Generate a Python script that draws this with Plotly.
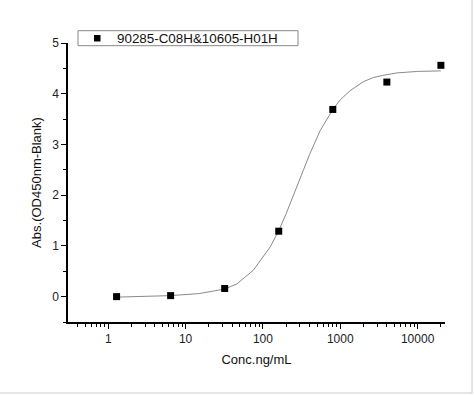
import plotly.graph_objects as go

# measured points
conc = [1.28, 6.4, 32, 160, 800, 4000, 20000]
absorb = [0.0, 0.02, 0.16, 1.29, 3.69, 4.23, 4.56]

# fitted curve
fit_x = [1.28, 3, 6.4, 15, 32, 46, 75, 124, 160, 200, 274, 400, 548, 800, 1000, 1340, 2000, 2680, 3500, 5370, 10000, 20000]
fit_y = [-0.01, 0.0, 0.02, 0.06, 0.15, 0.25, 0.52, 0.98, 1.3, 1.64, 2.16, 2.8, 3.27, 3.69, 3.88, 4.06, 4.24, 4.32, 4.36, 4.41, 4.44, 4.45]

series_name = "90285-C08H&10605-H01H"
x_ticks = [1, 10, 100, 1000, 10000]
x_labels = ["1", "10", "100", "1000", "10000"]
y_ticks = [0, 1, 2, 3, 4, 5]

FONT = "Arial, Liberation Sans, sans-serif"
W, H = 474, 395
ML, MR, MT, MB = 68, 29, 43, 73
PW, PH = W - ML - MR, H - MT - MB


def px(x):
    return (x - ML) / PW


def py(y):
    return 1 - (y - MT) / PH


fig = go.Figure()
fig.add_trace(go.Scatter(x=fit_x, y=fit_y, mode="lines", line=dict(color="#8a8a8a", width=1),
                         showlegend=False, hoverinfo="skip"))
fig.add_trace(go.Scatter(x=conc, y=absorb, mode="markers", name=series_name, showlegend=False,
                         marker=dict(symbol="square", size=7, color="black")))

fig.update_layout(
    width=W, height=H,
    margin=dict(l=ML, r=MR, t=MT, b=MB),
    paper_bgcolor="white", plot_bgcolor="white",
    font=dict(family=FONT, size=12, color="#222"),
    showlegend=False,
)
fig.update_xaxes(type="log", range=[-0.521, 4.354],
                 tickvals=x_ticks, ticktext=x_labels,
                 ticks="outside", ticklen=5, tickwidth=1, tickcolor="black",
                 showline=True, linecolor="black", linewidth=1.5,
                 showgrid=False, zeroline=False,
                 minor=dict(ticks="outside", ticklen=3, tickcolor="black", dtick="D1", showgrid=False),
                 tickfont=dict(size=12, family=FONT, color="#222"),
                 title=dict(text="Conc.ng/mL", font=dict(size=13, family=FONT, color="#111"), standoff=10))
fig.update_yaxes(range=[-0.5, 5], tickvals=y_ticks,
                 ticks="outside", ticklen=5, tickwidth=1, tickcolor="black",
                 showline=True, linecolor="black", linewidth=1.5,
                 showgrid=False, zeroline=False,
                 minor=dict(ticks="outside", ticklen=3, tickcolor="black", dtick=0.5, showgrid=False),
                 tickfont=dict(size=12, family=FONT, color="#222"),
                 title=dict(text="Abs.(OD450nm-Blank)", font=dict(size=13, family=FONT, color="#111"), standoff=8))

# legend box (drawn to match the compact original legend)
fig.add_shape(type="rect", xref="paper", yref="paper", x0=px(78), x1=px(298), y0=py(45.7), y1=py(30.7),
              line=dict(color="#888", width=1), fillcolor="white", layer="above")
fig.add_shape(type="rect", xref="paper", yref="paper", x0=px(94), x1=px(100.5), y0=py(41.5), y1=py(35),
              line=dict(color="black", width=0), fillcolor="black", layer="above")
fig.add_annotation(xref="paper", yref="paper", x=px(115), y=py(38.4), xanchor="left", yanchor="middle",
                   text=series_name, showarrow=False, font=dict(size=13.4, family=FONT, color="#111"))

# thin image frame on right and bottom
fig.add_shape(type="line", xref="paper", yref="paper", x0=px(0), x1=px(W - 1.5),
              y0=py(H - 2), y1=py(H - 2), line=dict(color="#cccccc", width=1))
fig.add_shape(type="line", xref="paper", yref="paper", x0=px(W - 2), x1=px(W - 2),
              y0=py(H - 2), y1=py(0), line=dict(color="#cccccc", width=1))

fig.write_html("out.html")
